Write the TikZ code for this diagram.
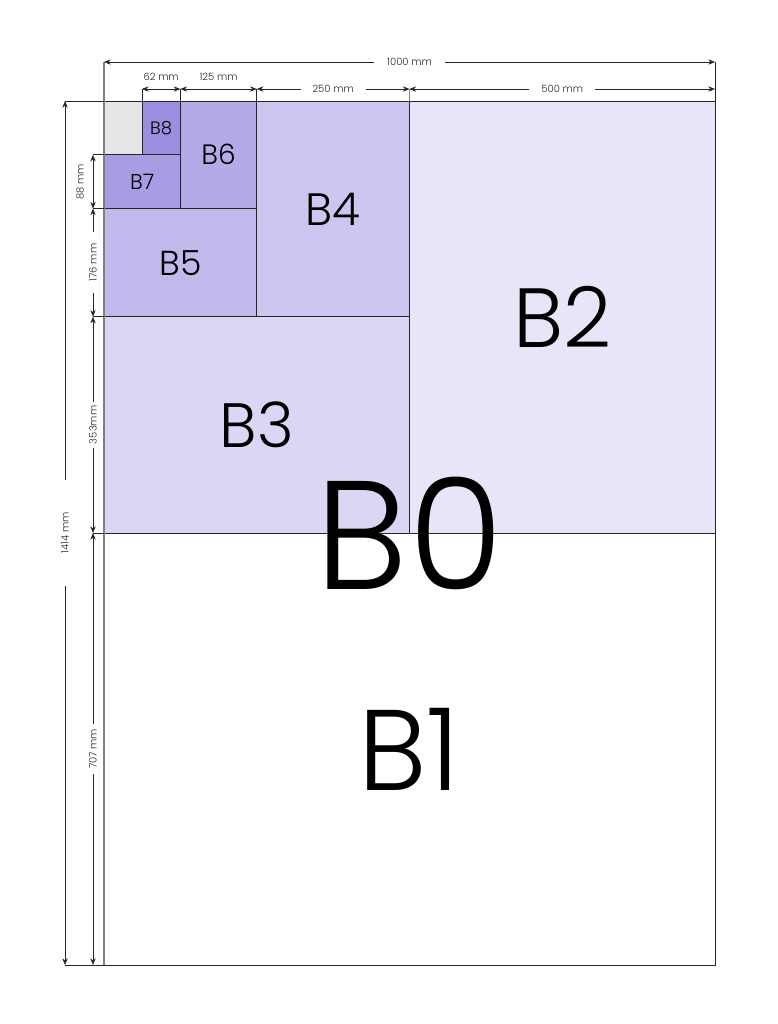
\documentclass[tikz,border=0pt]{standalone}
\usepackage{fontspec}
\setmainfont{Poppins Light}
\usetikzlibrary{arrows.meta}

\definecolor{fgrigio}{HTML}{E6E6E6}
\definecolor{fotto}{HTML}{9A8FDF}
\definecolor{fsette}{HTML}{A69DE3}
\definecolor{fsei}{HTML}{B3AAE7}
\definecolor{fcinque}{HTML}{C0B9EB}
\definecolor{fquattro}{HTML}{CCC7F0}
\definecolor{ftre}{HTML}{DAD6F4}
\definecolor{fdue}{HTML}{E8E5F8}

\begin{document}
\begin{tikzpicture}[x=0.45825pt, y=0.45825pt,
    quota/.style={{Stealth[length=5pt,width=4pt]}-{Stealth[length=5pt,width=4pt]}, black!85, line width=0.5pt},
    etichetta/.style={font=\fontsize{7.5}{8}\selectfont, text=black!85, fill=white, inner xsep=9pt, inner ysep=1pt},
    richiamo/.style={gray, line width=1pt},
    bordo/.style={black!85, line width=0.5pt},
    nome/.style={inner sep=0pt}]

    % Riquadro della pagina
    \useasboundingbox (-170.2,165.3) rectangle (1101.5,-1510.6);

    % Angoli dei formati (mm, origine in alto a sinistra)
    \coordinate (tl) at (0,0);
    \coordinate (tr) at (1000,0);
    \coordinate (bl) at (0,-1414);
    \coordinate (br) at (1000,-1414);

    % Campiture dei formati
    \fill[fdue] (500,0) rectangle (1000,-707);
    \fill[ftre] (0,-353) rectangle (500,-707);
    \fill[fquattro] (250,0) rectangle (500,-353);
    \fill[fcinque] (0,-176) rectangle (250,-353);
    \fill[fsei] (125,0) rectangle (250,-176);
    \fill[fsette] (0,-88) rectangle (125,-176);
    \fill[fotto] (62,0) rectangle (125,-88);
    \fill[fgrigio] (0,0) rectangle (62,-88);

    % Bordi e tagli
    \draw[bordo] (tl) -- (tr) -- (br) -- (bl);
    \draw[bordo] (0,-707) -- (1000,-707);
    \draw[bordo] (500,0) -- (500,-707);
    \draw[bordo] (0,-353) -- (500,-353);
    \draw[bordo] (250,0) -- (250,-353);
    \draw[bordo] (0,-176) -- (250,-176);
    \draw[bordo] (125,0) -- (125,-176);
    \draw[bordo] (0,-88) -- (125,-88);
    \draw[bordo] (62,0) -- (62,-88);

    % Linee di richiamo
    \coordinate (qa) at (0,63.8);
    \coordinate (qb) at (1000,63.8);
    \coordinate (q62) at (62,19.6);
    \coordinate (q125) at (125,19.6);
    \coordinate (q250) at (250,19.6);
    \coordinate (q500) at (500,19.6);
    \coordinate (q1000) at (1000,19.6);
    \draw[richiamo] (qa) -- (bl);
    \draw[bordo] (qb) -- (tr);
    \draw[bordo] (q62) -- (62,0);
    \draw[bordo] (q125) -- (125,0);
    \draw[bordo] (q250) -- (250,0);
    \draw[richiamo] (q500) -- (500,0);

    \coordinate (la) at (-63.8,0);
    \coordinate (lb) at (-63.8,-1414);
    \coordinate (l88) at (-18,-88);
    \coordinate (l176) at (-18,-176);
    \coordinate (l353) at (-18,-353);
    \coordinate (l707) at (-18,-707);
    \coordinate (l1414) at (-18,-1414);
    \draw[bordo] (la) -- (tl);
    \draw[bordo] (lb) -- (bl);
    \draw[bordo] (l88) -- (0,-88);
    \draw[bordo] (l176) -- (0,-176);
    \draw[bordo] (l353) -- (0,-353);
    \draw[bordo] (l707) -- (0,-707);

    % Quote orizzontali
    \draw[quota] (qa) -- node[etichetta, inner xsep=10pt] {1000 mm} (qb);
    \draw[quota] (q62) -- (q125);
    \node[etichetta, fill=none] (t62) at (93.5,39.3) {62 mm};
    \draw[quota] (q125) -- (q250);
    \node[etichetta, fill=none] (t125) at (187.5,39.3) {125 mm};
    \draw[quota] (q250) -- node[etichetta] {250 mm} (q500);
    \draw[quota] (q500) -- node[etichetta] {500 mm} (q1000);

    % Quote verticali
    \draw[quota] (la) -- node[etichetta, rotate=90, inner xsep=24pt] {1414 mm} (lb);
    \draw[quota] (l88) -- (l176);
    \node[etichetta, fill=none, rotate=90] (t88) at (-39.3,-132) {88 mm};
    \draw[quota] (l176) -- node[etichetta, rotate=90] {176 mm} (l353);
    \draw[quota] (l353) -- node[etichetta, rotate=90, inner xsep=3pt] {353mm} (l707);
    \draw[quota] (l707) -- node[etichetta, rotate=90, inner xsep=4pt] {707 mm} (l1414);

    % Nomi dei formati
    \node[nome, font=\fontsize{86}{86}\selectfont] (nuno) at (500,-1060.5) {B1};
    \node[nome, font=\fontsize{63}{63}\selectfont] (ndue) at (750,-353.5) {B2};
    \node[nome, font=\fontsize{47}{47}\selectfont] (ntre) at (250,-530) {B3};
    \node[nome, font=\fontsize{34}{34}\selectfont] (nquattro) at (375,-176.5) {B4};
    \node[nome, font=\fontsize{26}{26}\selectfont] (ncinque) at (125,-264.5) {B5};
    \node[nome, font=\fontsize{21}{21}\selectfont] (nsei) at (187.5,-88) {B6};
    \node[nome, font=\fontsize{16}{16}\selectfont] (nsette) at (62.5,-132) {B7};
    \node[nome, font=\fontsize{13.5}{14}\selectfont] (notto) at (93.5,-44) {B8};
    \node[nome, font=\fontsize{116}{116}\selectfont] (nzero) at (500,-707) {B0};
\end{tikzpicture}
\end{document}
